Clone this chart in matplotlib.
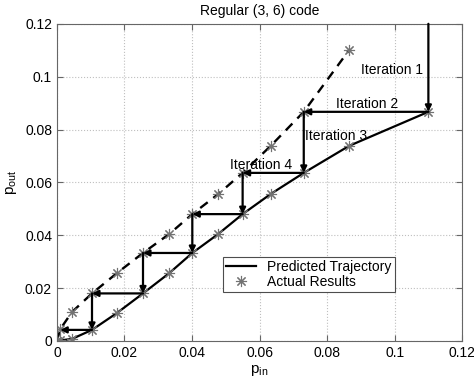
import matplotlib.pyplot as plt

plt.rcParams['font.family'] = ['Liberation Sans', 'DejaVu Sans']

# actual results (stars)
pin = [0.0, 0.001, 0.0045, 0.0104, 0.0178, 0.0255, 0.0333, 0.0401, 0.0478, 0.055, 0.0633, 0.0731, 0.0865, 0.110]
pout_fwd = [0.0, 0.0002, 0.0008, 0.0042, 0.0106, 0.018, 0.0257, 0.0333, 0.0405, 0.048, 0.0556, 0.0636, 0.0738, 0.0867]
pout_inv = [0.0, 0.0045, 0.011, 0.018, 0.0257, 0.0333, 0.0405, 0.048, 0.0556, 0.0636, 0.0738, 0.0867, 0.110]

# trajectory corners
traj_x = [0.110, 0.110, 0.0731, 0.0731, 0.055, 0.055, 0.0401, 0.0401, 0.0255, 0.0255, 0.0104, 0.0104, 0.001]
traj_y = [0.12, 0.0867, 0.0867, 0.0636, 0.0636, 0.048, 0.048, 0.0333, 0.0333, 0.018, 0.018, 0.0042, 0.0042]

labels = ["Iteration 1", "Iteration 2", "Iteration 3", "Iteration 4"]
label_pos = [(0.1085, 0.1025), (0.1012, 0.0895), (0.0735, 0.0775), (0.0605, 0.0665)]
label_ha = ["right", "right", "left", "center"]

fig = plt.figure(figsize=(4.74, 3.84), dpi=100)
ax = fig.add_axes([0.120, 0.112, 0.855, 0.826])

star = (8, 2, 0)
ax.plot(pin, pout_fwd, color="k", lw=1.6, label="Predicted Trajectory")
ax.plot(pin[:-1], pout_inv, color="k", lw=1.7, linestyle=(0, (4, 3)))
ax.plot(pin, pout_fwd, linestyle="none", marker=star, ms=8, mew=0.8, color="0.45", label="Actual Results")
ax.plot(pin[:-1], pout_inv, linestyle="none", marker=star, ms=8, mew=0.8, color="0.45")

for i in range(len(traj_x) - 1):
    ax.annotate("", xy=(traj_x[i + 1], traj_y[i + 1]), xytext=(traj_x[i], traj_y[i]),
                arrowprops=dict(arrowstyle="-|>", lw=1.6, color="k", mutation_scale=9,
                                shrinkA=0, shrinkB=0))

for t, (x, y), ha in zip(labels, label_pos, label_ha):
    ax.text(x, y, t, ha=ha, va="center", fontsize=10)

ax.set_xlim(0, 0.12)
ax.set_ylim(0, 0.12)
ticks = [0, 0.02, 0.04, 0.06, 0.08, 0.1, 0.12]
ax.set_xticks(ticks)
ax.set_yticks(ticks)
ax.set_xticklabels(["0", "0.02", "0.04", "0.06", "0.08", "0.1", "0.12"])
ax.set_yticklabels(["0", "0.02", "0.04", "0.06", "0.08", "0.1", "0.12"])
ax.tick_params(direction="in", top=True, right=True, labelsize=10, length=4, color="0.4")
ax.grid(True, linestyle=":", color="0.75", lw=0.8)
for s in ax.spines.values():
    s.set_color("0.4")

ax.set_title("Regular (3, 6) code", fontsize=10, pad=6)
ax.set_xlabel("p$_{\\mathregular{in}}$", fontsize=11, labelpad=2)
ax.set_ylabel("p$_{\\mathregular{out}}$", fontsize=11, labelpad=4)

leg = ax.legend(loc="lower left", bbox_to_anchor=(0.41, 0.155), fontsize=10, fancybox=False,
                edgecolor="0.3", framealpha=1, borderpad=0.2, labelspacing=0.1,
                handlelength=2.2, borderaxespad=0)
leg.get_frame().set_linewidth(0.8)

fig.savefig("out.png", dpi=100)
